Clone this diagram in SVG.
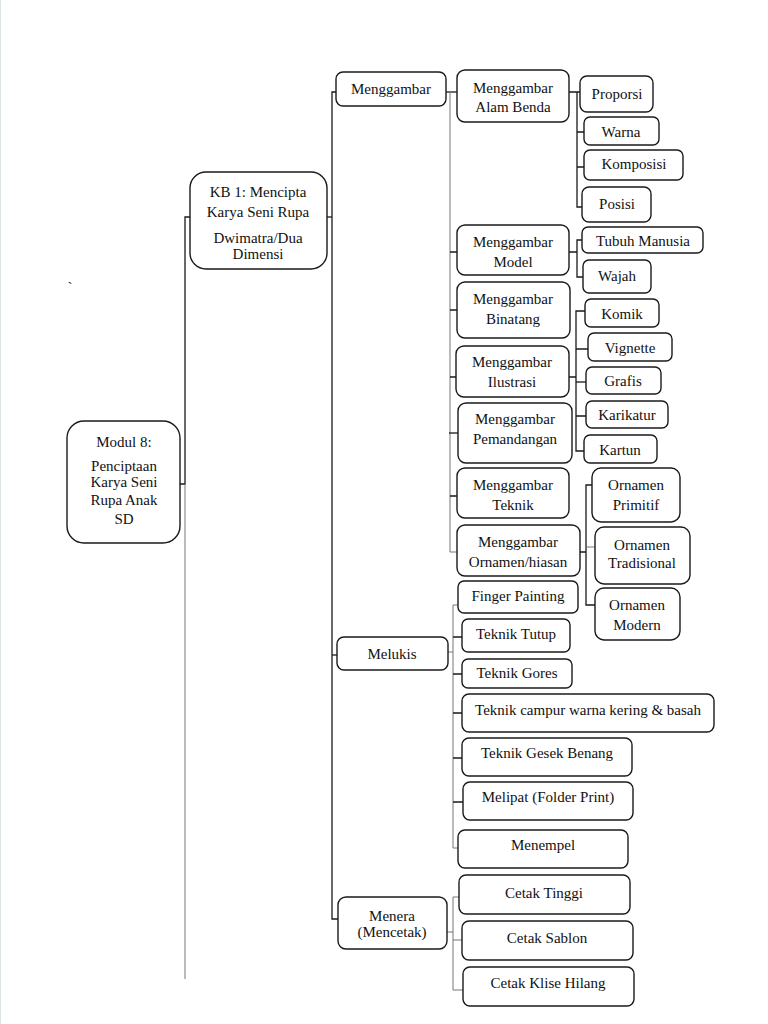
<svg xmlns="http://www.w3.org/2000/svg" width="768" height="1024" viewBox="0 0 768 1024">
<style>
.b{fill:#fff;stroke:#1a1a1a;stroke-width:1.4}
.t{font-family:"Liberation Serif","Times New Roman",serif;font-size:15px;fill:#111;text-anchor:middle}
.c{fill:none;stroke:#1a1a1a;stroke-width:1.3}
.g{fill:none;stroke:#777;stroke-width:1}
</style>
<rect x="0" y="0" width="768" height="1024" fill="#fff"/>
<line x1="0.5" y1="0" x2="0.5" y2="1024" stroke="#dde4e8" stroke-width="1"/>
<text x="70" y="292" class="t" font-size="12">`</text>

<g id="connectors">
  <path class="c" d="M190,217 H185 V484 H180"/>
  <path class="g" d="M185,484 V979"/>
  <path class="c" d="M327,217 H332"/>
  <path class="c" d="M337,92 H332 V919 H338"/>
  <path class="c" d="M332,655 H337"/>
  <path class="c" d="M446,92 H457"/>
  <path class="g" d="M450,92 V552 H457"/>
  <path class="c" d="M450,252 H457 M450,310 H457 M450,377 H456 M450,496 H457"/>
  <path class="c" d="M449,433 H458" stroke-width="2"/>
  <path class="c" d="M569,92 H580 M577,92 V207 H582 M577,132 H584 M577,167 H584"/>
  <path class="c" d="M569,252 H577 M582,240 H577 V277 H583"/>
  <path class="c" d="M569,377 H576 M585,311 H576 V451 H584 M576,349 H588 M576,416 H586"/>
  <path class="c" d="M576,382 H586" stroke-width="2"/>
  <path class="c" d="M580,552 H586 M592,485 H586 V605 H595" stroke-width="2"/>
  <path class="g" d="M586,547 H595"/>
  <path class="g" d="M448,652 H453 M458,605 H453 V848 H458"/>
  <path class="c" d="M453,637 H462 M453,674 H462 M453,713 H462 M453,758 H462 M453,802 H463"/>
  <path class="g" d="M447,932 H453 M459,897 H453 V990 H463 M453,940 H462"/>
</g>

<g id="modul"><rect class="b" x="67" y="421" width="113" height="122" rx="17"/>
<text class="t" x="124" y="447">Modul 8:</text>
<text class="t" x="124" y="471">Penciptaan</text>
<text class="t" x="124" y="487">Karya Seni</text>
<text class="t" x="124" y="505">Rupa Anak</text>
<text class="t" x="124" y="524">SD</text></g>

<g id="kb"><rect class="b" x="190" y="172" width="137" height="97" rx="16"/>
<text class="t" x="258" y="197">KB 1: Mencipta</text>
<text class="t" x="258" y="217">Karya Seni Rupa</text>
<text class="t" x="258" y="243">Dwimatra/Dua</text>
<text class="t" x="258" y="259">Dimensi</text></g>

<g id="menggambar"><rect class="b" x="336" y="72" width="110" height="34" rx="7"/>
<text class="t" x="391" y="94">Menggambar</text></g>
<g id="melukis"><rect class="b" x="337" y="637" width="111" height="33" rx="7"/>
<text class="t" x="392" y="659">Melukis</text></g>
<g id="menera"><rect class="b" x="338" y="897" width="109" height="52" rx="8"/>
<text class="t" x="392" y="921">Menera</text>
<text class="t" x="392" y="937">(Mencetak)</text></g>

<g id="alam-benda"><rect class="b" x="457" y="70" width="112" height="52" rx="8"/>
<text class="t" x="513" y="93">Menggambar</text><text class="t" x="513" y="112">Alam Benda</text></g>
<g id="model"><rect class="b" x="457" y="225" width="112" height="50" rx="8"/>
<text class="t" x="513" y="247">Menggambar</text><text class="t" x="513" y="267">Model</text></g>
<g id="binatang"><rect class="b" x="457" y="282" width="113" height="56" rx="8"/>
<text class="t" x="513" y="304">Menggambar</text><text class="t" x="513" y="324">Binatang</text></g>
<g id="ilustrasi"><rect class="b" x="456" y="346" width="113" height="51" rx="8"/>
<text class="t" x="512" y="367">Menggambar</text><text class="t" x="512" y="387">Ilustrasi</text></g>
<g id="pemandangan"><rect class="b" x="458" y="403" width="114" height="60" rx="8"/>
<text class="t" x="515" y="424">Menggambar</text><text class="t" x="515" y="444">Pemandangan</text></g>
<g id="teknik"><rect class="b" x="457" y="468" width="112" height="50" rx="8"/>
<text class="t" x="513" y="490">Menggambar</text><text class="t" x="513" y="510">Teknik</text></g>
<g id="ornamen-hiasan"><rect class="b" x="457" y="525" width="123" height="51" rx="8"/>
<text class="t" x="518" y="547">Menggambar</text><text class="t" x="518" y="567">Ornamen/hiasan</text></g>

<g id="proporsi"><rect class="b" x="580" y="76" width="73" height="36" rx="7"/><text class="t" x="617" y="99">Proporsi</text></g>
<g id="warna"><rect class="b" x="584" y="117" width="75" height="28" rx="6"/><text class="t" x="621" y="137">Warna</text></g>
<g id="komposisi"><rect class="b" x="584" y="150" width="99" height="30" rx="6"/><text class="t" x="634" y="169">Komposisi</text></g>
<g id="posisi"><rect class="b" x="582" y="187" width="69" height="35" rx="7"/><text class="t" x="617" y="209">Posisi</text></g>
<g id="tubuh"><rect class="b" x="582" y="227" width="121" height="26" rx="6"/><text class="t" x="643" y="246">Tubuh Manusia</text></g>
<g id="wajah"><rect class="b" x="583" y="260" width="68" height="33" rx="6"/><text class="t" x="617" y="281">Wajah</text></g>

<g id="komik"><rect class="b" x="585" y="299" width="74" height="28" rx="6"/><text class="t" x="622" y="319">Komik</text></g>
<g id="vignette"><rect class="b" x="588" y="333" width="84" height="28" rx="6"/><text class="t" x="630" y="353">Vignette</text></g>
<g id="grafis"><rect class="b" x="586" y="367" width="75" height="27" rx="6"/><text class="t" x="623" y="386">Grafis</text></g>
<g id="karikatur"><rect class="b" x="586" y="401" width="82" height="27" rx="6"/><text class="t" x="627" y="420">Karikatur</text></g>
<g id="kartun"><rect class="b" x="584" y="435" width="73" height="28" rx="6"/><text class="t" x="620" y="455">Kartun</text></g>

<g id="primitif"><rect class="b" x="592" y="468" width="88" height="54" rx="9"/>
<text class="t" x="636" y="490">Ornamen</text><text class="t" x="636" y="510">Primitif</text></g>
<g id="tradisional"><rect class="b" x="595" y="527" width="95" height="57" rx="9"/>
<text class="t" x="642" y="550">Ornamen</text><text class="t" x="642" y="568">Tradisional</text></g>
<g id="modern"><rect class="b" x="595" y="588" width="85" height="52" rx="9"/>
<text class="t" x="637" y="610">Ornamen</text><text class="t" x="637" y="630">Modern</text></g>

<g id="finger"><rect class="b" x="458" y="581" width="120" height="32" rx="6"/><text class="t" x="518" y="601">Finger Painting</text></g>
<g id="tutup"><rect class="b" x="462" y="619" width="108" height="33" rx="6"/><text class="t" x="516" y="639">Teknik Tutup</text></g>
<g id="gores"><rect class="b" x="462" y="659" width="110" height="29" rx="6"/><text class="t" x="517" y="678">Teknik Gores</text></g>
<g id="campur"><rect class="b" x="462" y="694" width="252" height="38" rx="7"/><text class="t" x="588" y="715">Teknik campur warna kering &amp; basah</text></g>
<g id="gesek"><rect class="b" x="462" y="738" width="170" height="38" rx="7"/><text class="t" x="547" y="758">Teknik Gesek Benang</text></g>
<g id="melipat"><rect class="b" x="463" y="782" width="170" height="38" rx="7"/><text class="t" x="548" y="802">Melipat (Folder Print)</text></g>
<g id="menempel"><rect class="b" x="458" y="830" width="170" height="38" rx="7"/><text class="t" x="543" y="850">Menempel</text></g>

<g id="tinggi"><rect class="b" x="459" y="875" width="171" height="39" rx="7"/><text class="t" x="544" y="898">Cetak Tinggi</text></g>
<g id="sablon"><rect class="b" x="462" y="921" width="171" height="39" rx="7"/><text class="t" x="547" y="943">Cetak Sablon</text></g>
<g id="klise"><rect class="b" x="463" y="967" width="171" height="39" rx="7"/><text class="t" x="548" y="988">Cetak Klise Hilang</text></g>
</svg>
